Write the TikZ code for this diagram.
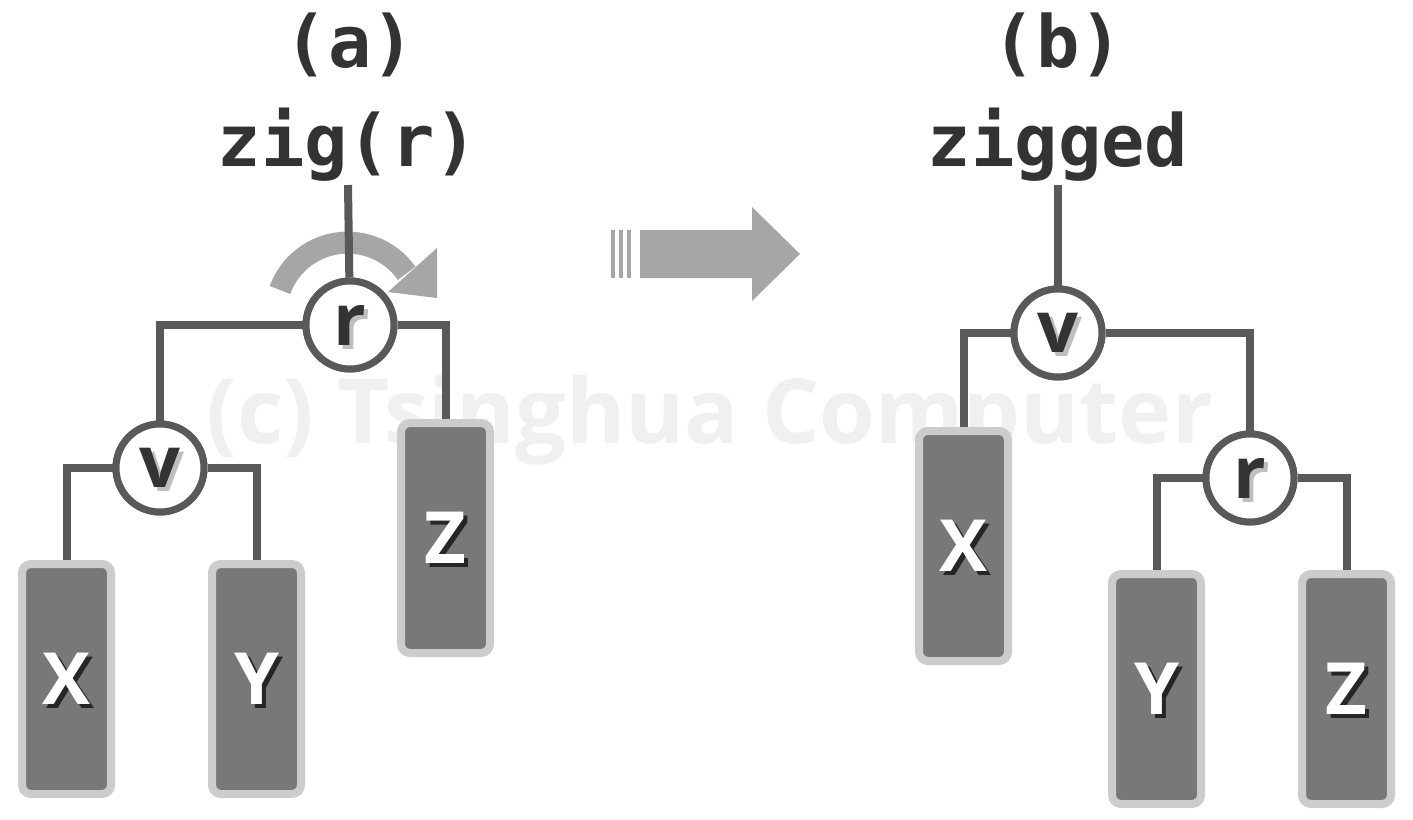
\documentclass[tikz,border=0pt]{standalone}
\usepackage{fontspec}
\newfontfamily\monob{DejaVu Sans Mono}
\newfontfamily\sansb{Open Sans}
\begin{document}
\begin{tikzpicture}[x=1pt,y=-1pt,
  edge/.style={draw=black!65,line width=8pt},
  circ/.style={circle,draw=black!65,line width=7pt,fill=white,minimum size=88pt,inner sep=0pt},
  box/.style={draw=black!20,line width=8pt,fill=black!53,rounded corners=9pt},
  title/.style={font=\monob\bfseries\fontsize{72}{72}\selectfont,text=black!80},
  let/.style={font=\sansb\bfseries\fontsize{72}{72}\selectfont}]
\useasboundingbox (0,0) rectangle (1413,819);
\fill[white] (0,0) rectangle (1413,819);
% watermark
\node[font=\sansb\bfseries\fontsize{90}{90}\selectfont,text=black!6] (wm) at (710,420) {(c) Tsinghua Computer};
% (a)
\node[title] (ta) at (350,45) {(a)};
\node[title] (za) at (348,145) {zig(r)};
\coordinate (ztop) at (348,185);
\draw[black!35,line width=22pt] (280,290) arc[start angle=200,end angle=325,radius=72];
\fill[black!35] (437,248) -- (437,298) -- (388,292) -- cycle;
\node[circ] (ra) at (350,325) {};
\node[circ] (va) at (160,468) {};
\draw[edge] (ztop) -- (ra);
\node[box,minimum width=89pt,minimum height=230pt] (Za) at (445.5,538) {};
\node[box,minimum width=89pt,minimum height=230pt] (Xa) at (66.5,679) {};
\node[box,minimum width=89pt,minimum height=230pt] (Ya) at (256.5,679) {};
\draw[edge] (ra.west) -| (va.north);
\draw[edge] (ra.east) -| (Za.north);
\draw[edge] (va.west) -| (Xa.north);
\draw[edge] (va.east) -| (Ya.north);
\node[circ] at (ra) {};
\node[circ] at (va) {};
% (b)
\node[title] (tb) at (1058,45) {(b)};
\node[title] (zb) at (1058,145) {zigged};
\coordinate (btop) at (1058,185);
\node[circ] (vb) at (1058,333) {};
\node[circ] (rb) at (1250,478) {};
\node[box,minimum width=89pt,minimum height=230pt] (Xb) at (963.5,546) {};
\node[box,minimum width=89pt,minimum height=230pt] (Yb) at (1156.5,689) {};
\node[box,minimum width=89pt,minimum height=230pt] (Zb) at (1346.5,689) {};
\draw[edge] (btop) -- (vb);
\draw[edge] (vb.west) -| (Xb.north);
\draw[edge] (vb.east) -| (rb.north);
\draw[edge] (rb.west) -| (Yb.north);
\draw[edge] (rb.east) -| (Zb.north);
\node[circ] at (vb) {};
\node[circ] at (rb) {};
% letters
\foreach \p/\t in {ra/r,va/v,vb/v,rb/r}{
  \node[let,text=black!25] at ([shift={(4,4)}]\p) {\t};
  \node[let,text=black!80] at (\p) {\t};}
\foreach \p/\t in {Za/Z,Xa/X,Ya/Y,Xb/X,Yb/Y,Zb/Z}{
  \node[let,text=black!85] at ([shift={(4,4)}]\p) {\t};
  \node[let,text=white] at (\p) {\t};}
% big arrow
\fill[black!35] (640,230) -- (752,230) -- (752,207) -- (800,254) -- (752,301) -- (752,278) -- (640,278) -- cycle;
\foreach \x in {611,619,627}{\fill[black!35] (\x,230) rectangle (\x+4,278);}
\end{tikzpicture}
\end{document}
